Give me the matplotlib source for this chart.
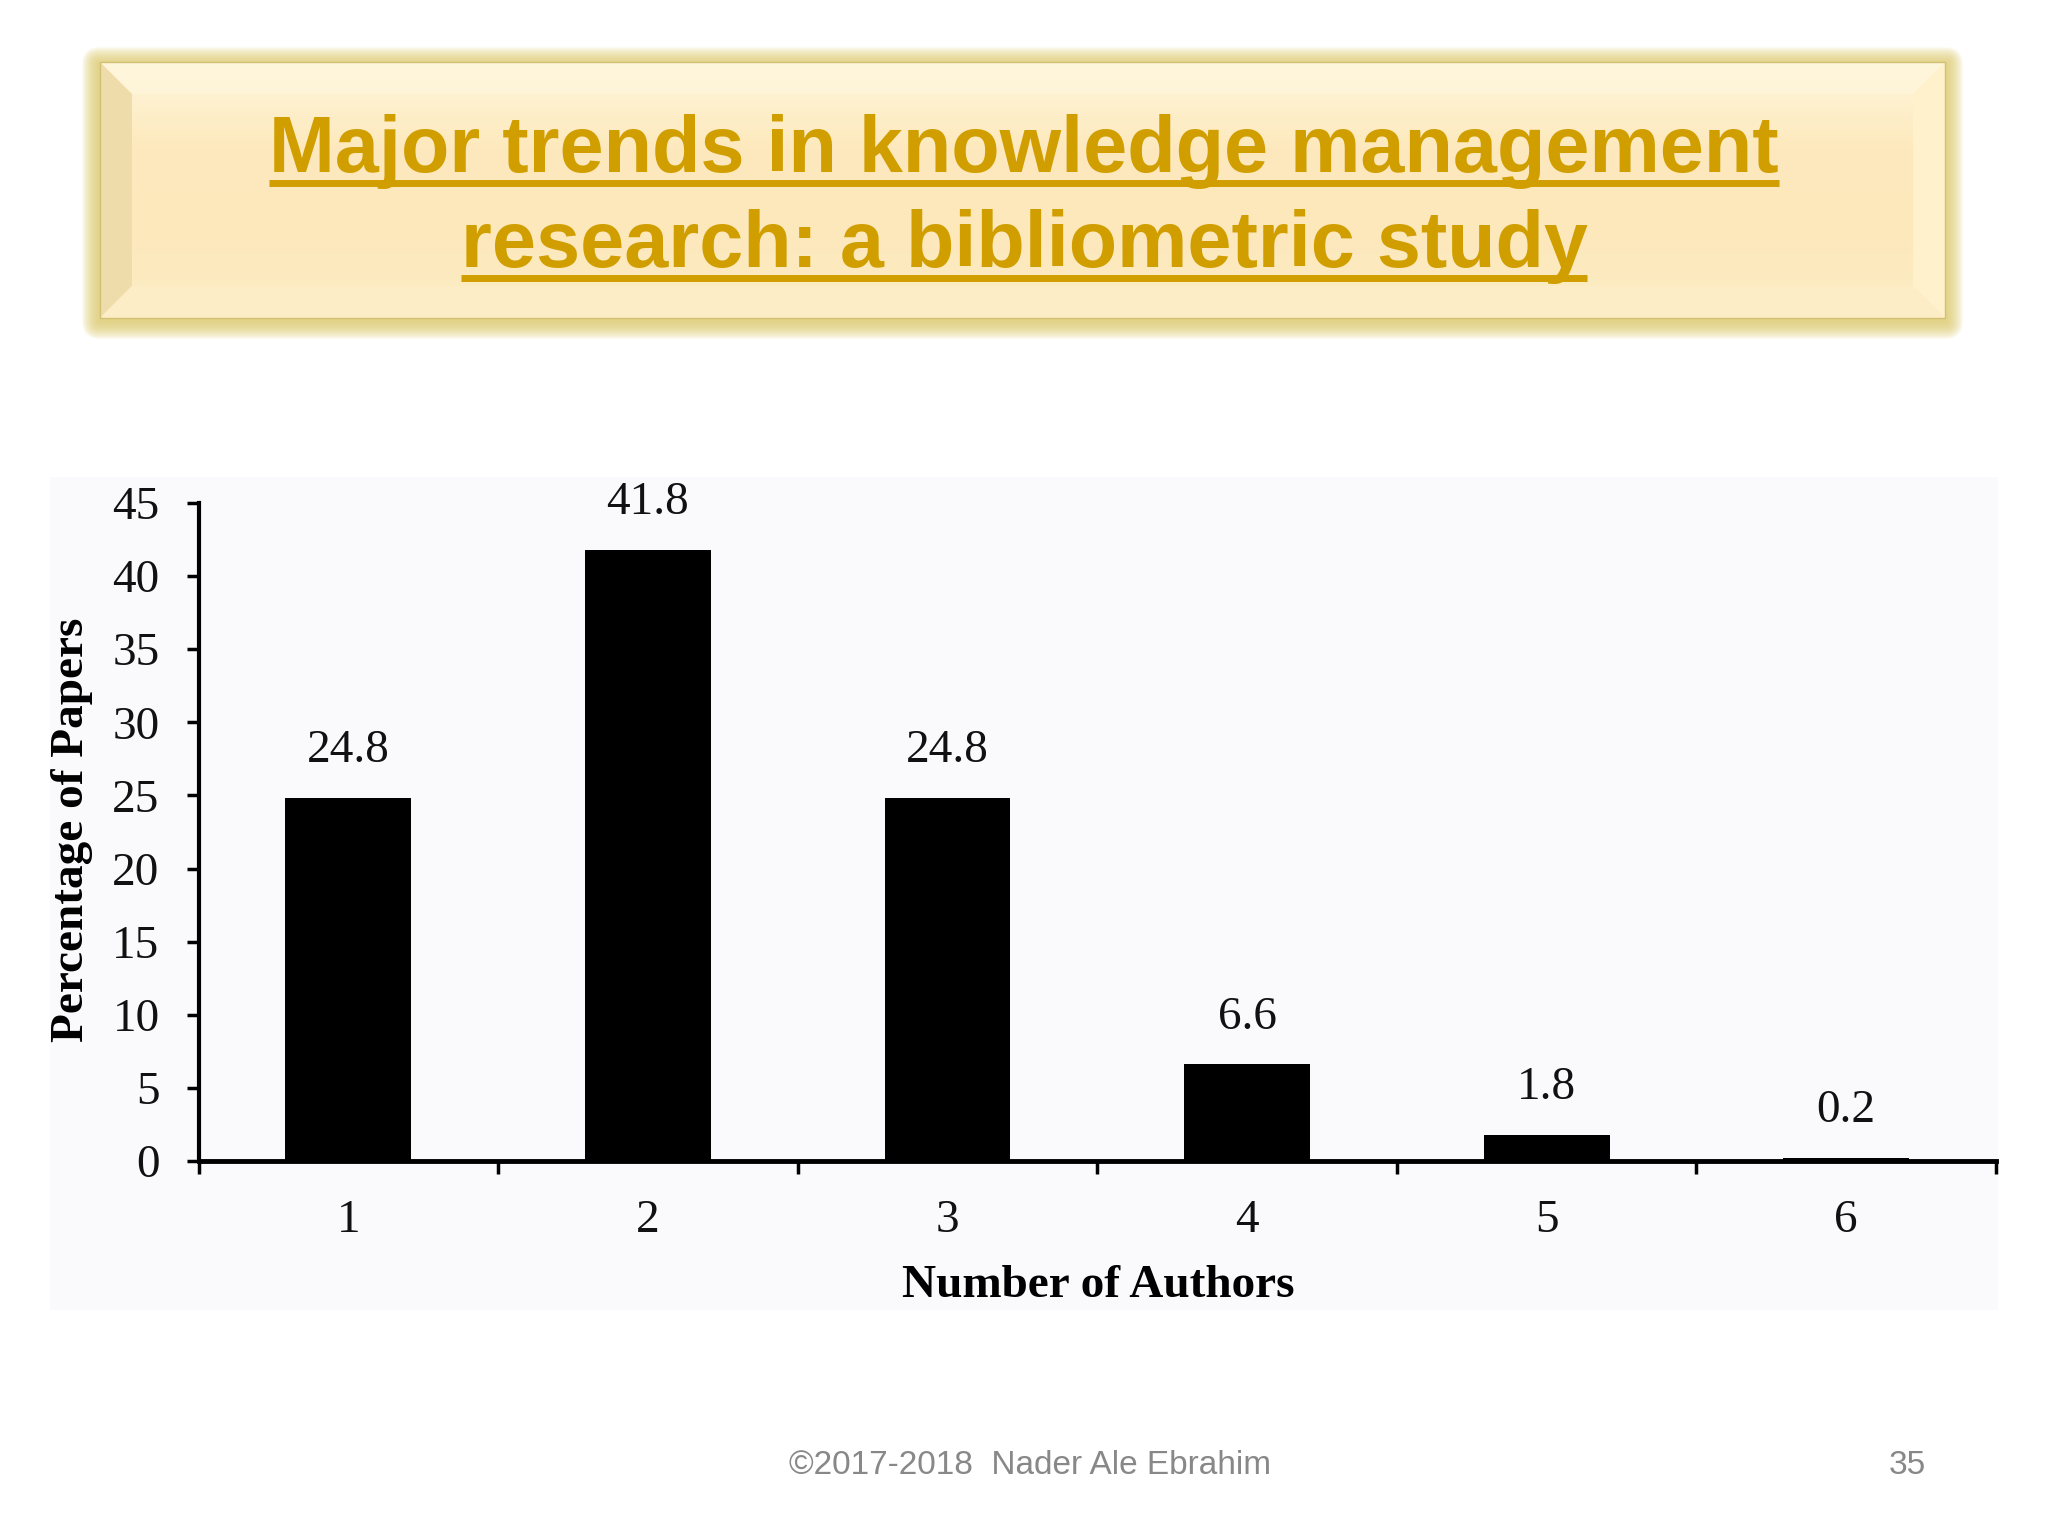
import matplotlib.pyplot as plt
import numpy as np
from matplotlib.patches import Rectangle, Polygon, FancyBboxPatch
from matplotlib.colors import LinearSegmentedColormap

# data
authors = [1, 2, 3, 4, 5, 6]
percent = [24.8, 41.8, 24.8, 6.6, 1.8, 0.2]
value_labels = ['24.8', '41.8', '24.8', '6.6', '1.8', '0.2']
y_ticks = [0, 5, 10, 15, 20, 25, 30, 35, 40, 45]
title_lines = ['Major trends in knowledge management', 'research: a bibliometric study']
footer = '\u00a92017-2018  Nader Ale Ebrahim'
page_no = '35'

W, H = 2048, 1536
fig = plt.figure(figsize=(20.48, 15.36), dpi=100)
fig.patch.set_facecolor('white')

# background layer in pixel coordinates (y going down)
bg = fig.add_axes([0, 0, 1, 1])
bg.set_xlim(0, W)
bg.set_ylim(H, 0)
bg.axis('off')

# title box: soft glow, gradient fill and bevels
x0, x1, y0, y1 = 100, 1945, 62, 318
for d in range(18, 0, -1):
    bg.add_patch(FancyBboxPatch((x0 - d, y0 - d + 3), (x1 - x0) + 2 * d, (y1 - y0) + 2 * d,
                                boxstyle='round,pad=0,rounding_size=%d' % d,
                                facecolor='#e0cd70', edgecolor='none', alpha=0.085))

grad = LinearSegmentedColormap.from_list('box', ['#fff7dc', '#fde9bd', '#fce8bb', '#fdecc4'])
bg.imshow(np.linspace(0, 1, 200).reshape(-1, 1), cmap=grad, aspect='auto',
          extent=[x0, x1, y1, y0], zorder=2)
b = 32
bg.add_patch(Polygon([(x0, y0), (x1, y0), (x1 - b, y0 + b), (x0 + b, y0 + b)],
                     facecolor='#fff6dc', edgecolor='none', alpha=0.7, zorder=3))
bg.add_patch(Polygon([(x0, y0), (x0 + b, y0 + b), (x0 + b, y1 - b), (x0, y1)],
                     facecolor='#efdcab', edgecolor='none', zorder=3))
bg.add_patch(Polygon([(x1, y0), (x1, y1), (x1 - b, y1 - b), (x1 - b, y0 + b)],
                     facecolor='#fff1cb', edgecolor='none', zorder=3))
bg.add_patch(Polygon([(x0, y1), (x1, y1), (x1 - b, y1 - b), (x0 + b, y1 - b)],
                     facecolor='#fdedc6', edgecolor='none', zorder=3))
bg.add_patch(Rectangle((x0, y0), x1 - x0, y1 - y0, facecolor='none',
                       edgecolor='#d2c075', linewidth=1.0, zorder=4))

title_color = '#d19e00'
title_texts = []
for line, base in zip(title_lines, [172, 267]):
    t = bg.text(1024, base, line, ha='center', va='baseline', fontsize=57,
                fontweight='bold', family='Liberation Sans', color=title_color, zorder=5)
    title_texts.append((t, base))

# light chart background
bg.add_patch(Rectangle((50, 477), 1948, 833, facecolor='#fafafc', edgecolor='none'))

# footer
fig.text(1030 / W, 1 - 1465 / H, footer, ha='center', va='center', fontsize=24,
         color='#888888', family='Liberation Sans')
fig.text(1907 / W, 1 - 1465 / H, page_no, ha='center', va='center', fontsize=24,
         color='#888888', family='Liberation Sans')

# the bar chart
serif = 'Liberation Serif'
ax = fig.add_axes([198.5 / W, 1 - 1161 / H, (1996 - 198.5) / W, (1161 - 503) / H])
ax.patch.set_alpha(0)
ax.bar(authors, percent, width=0.42, color='black', zorder=3)
ax.set_xlim(0.5, 6.5)
ax.set_ylim(0, 45)
for s in ['top', 'right']:
    ax.spines[s].set_visible(False)
ax.spines['left'].set_linewidth(3)
ax.spines['bottom'].set_linewidth(3.5)

ax.set_yticks(y_ticks)
ax.tick_params(axis='y', direction='out', length=9, width=2.5, pad=19, labelsize=34)
ax.set_xticks(authors)
ax.set_xticks(np.arange(0.5, 7, 1), minor=True)
ax.tick_params(axis='x', which='major', length=0, pad=28, labelsize=34)
ax.tick_params(axis='x', which='minor', direction='out', length=9, width=2.5)
for lab in ax.get_xticklabels() + ax.get_yticklabels():
    lab.set_family(serif)
    lab.set_color('#111111')

for x, v, lbl in zip(authors, percent, value_labels):
    ax.annotate(lbl, (x, v), xytext=(0, 34), textcoords='offset points',
                ha='center', va='center', fontsize=34, family=serif, color='#111111')

fig.text(1098 / W, 1 - 1286 / H, 'Number of Authors', ha='center', va='center',
         fontsize=34, fontweight='bold', family=serif)
fig.text(72 / W, 1 - 830 / H, 'Percentage of Papers', ha='center', va='center',
         rotation=90, fontsize=34, fontweight='bold', family=serif)

# underline the title lines
fig.canvas.draw()
r = fig.canvas.get_renderer()
inv = bg.transData.inverted()
for t, base in title_texts:
    ext = t.get_window_extent(r)
    xa = inv.transform((ext.x0, 0))[0]
    xb = inv.transform((ext.x1, 0))[0]
    bg.plot([xa, xb], [base + 11, base + 11], color=title_color, linewidth=5, zorder=5,
            solid_capstyle='butt')

fig.savefig('out.png', dpi=100)
